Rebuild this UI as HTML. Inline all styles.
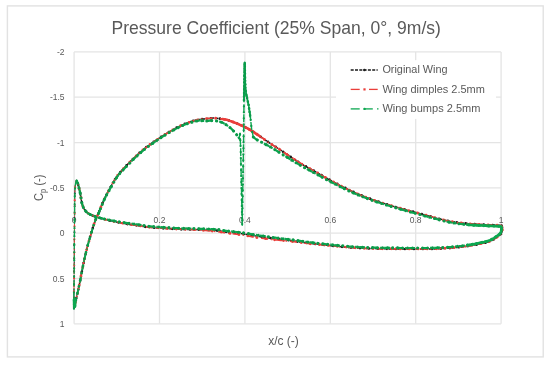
<!DOCTYPE html>
<html><head><meta charset="utf-8"><title>Pressure Coefficient</title>
<style>
html,body{margin:0;padding:0;background:#fff;}
body{width:550px;height:366px;overflow:hidden;font-family:"Liberation Sans",sans-serif;}
svg{display:block;}
text{font-family:"Liberation Sans",sans-serif;fill:#595959;}
.grid line{stroke:#e4e4e4;stroke-width:1.3;}
.tick text{font-size:8.5px;}
.crv{fill:none;stroke-linejoin:round;}
</style></head>
<body>
<svg width="550" height="366" viewBox="0 0 550 366">
<rect x="0" y="0" width="550" height="366" fill="#fff"/>
<rect x="7.4" y="5.9" width="535.8" height="351" fill="#fff" stroke="#e2e2e2" stroke-width="1.4"/>
<text x="276.2" y="33.5" text-anchor="middle" font-size="18.6" textLength="329.5" lengthAdjust="spacingAndGlyphs">Pressure Coefficient (25% Span, 0°, 9m/s)</text>
<g class="grid"><line x1="74.10" y1="51.90" x2="74.10" y2="323.80"/><line x1="159.50" y1="51.90" x2="159.50" y2="323.80"/><line x1="244.90" y1="51.90" x2="244.90" y2="323.80"/><line x1="330.30" y1="51.90" x2="330.30" y2="323.80"/><line x1="415.70" y1="51.90" x2="415.70" y2="323.80"/><line x1="501.10" y1="51.90" x2="501.10" y2="323.80"/><line x1="74.10" y1="51.90" x2="501.10" y2="51.90"/><line x1="74.10" y1="97.22" x2="501.10" y2="97.22"/><line x1="74.10" y1="142.53" x2="501.10" y2="142.53"/><line x1="74.10" y1="187.85" x2="501.10" y2="187.85"/><line x1="74.10" y1="233.17" x2="501.10" y2="233.17"/><line x1="74.10" y1="278.48" x2="501.10" y2="278.48"/><line x1="74.10" y1="323.80" x2="501.10" y2="323.80"/></g>
<g class="tick"><text x="64.6" y="54.9" text-anchor="end">-2</text><text x="64.6" y="100.2" text-anchor="end">-1.5</text><text x="64.6" y="145.5" text-anchor="end">-1</text><text x="64.6" y="190.9" text-anchor="end">-0.5</text><text x="64.6" y="236.2" text-anchor="end">0</text><text x="64.6" y="281.5" text-anchor="end">0.5</text><text x="64.6" y="326.8" text-anchor="end">1</text></g>
<g class="tick"><text x="74.1" y="223" text-anchor="middle">0</text><text x="159.5" y="223" text-anchor="middle">0.2</text><text x="244.9" y="223" text-anchor="middle">0.4</text><text x="330.3" y="223" text-anchor="middle">0.6</text><text x="415.7" y="223" text-anchor="middle">0.8</text><text x="501.1" y="223" text-anchor="middle">1</text></g>
<g class="crv">
<path d="M74.2 307.0 L74.4 306.2 L74.6 305.2 L74.9 304.0 L75.3 302.6 L75.6 301.1 L76.0 299.6 L76.3 298.0 L76.7 296.5 L77.0 295.0 L77.4 293.5 L77.7 292.0 L78.1 290.4 L78.5 288.7 L78.8 286.9 L79.3 284.9 L79.7 282.8 L80.2 280.4 L80.7 277.8 L81.2 275.0 L81.8 272.1 L82.4 269.1 L82.9 266.3 L83.5 263.5 L84.0 261.0 L84.5 258.7 L85.0 256.5 L85.5 254.4 L86.0 252.3 L86.5 250.4 L87.0 248.4 L87.5 246.5 L88.0 244.6 L88.5 242.7 L89.1 240.7 L89.6 238.8 L90.1 236.9 L90.7 235.1 L91.2 233.3 L91.7 231.6 L92.2 230.0 L92.7 228.5 L93.1 227.1 L93.5 225.8 L93.9 224.5 L94.3 223.3 L94.7 222.2 L95.1 221.1 L95.5 220.0 L95.8 219.1 L96.2 218.3 L96.5 217.6 L96.8 216.9 L97.1 216.2 L97.5 215.4 L97.9 214.5 L98.4 213.4 L99.0 212.0 L99.7 210.3 L100.4 208.6 L101.1 206.7 L101.8 204.8 L102.6 202.9 L103.4 201.1 L104.1 199.4 L104.9 197.9 L105.6 196.4 L106.4 194.9 L107.1 193.5 L107.9 192.1 L108.7 190.7 L109.4 189.3 L110.2 187.8 L111.0 186.4 L111.8 184.9 L112.7 183.4 L113.5 181.9 L114.3 180.5 L115.2 179.0 L116.0 177.7 L116.9 176.3 L117.8 175.1 L118.7 174.0 L119.6 172.9 L120.5 171.9 L121.4 170.9 L122.4 169.8 L123.4 168.7 L124.6 167.5 L125.8 166.2 L127.2 164.8 L128.6 163.3 L130.0 161.9 L131.5 160.4 L133.0 158.9 L134.5 157.5 L135.9 156.2 L137.3 154.9 L138.6 153.7 L139.9 152.5 L141.2 151.4 L142.5 150.2 L143.9 149.1 L145.2 148.0 L146.6 146.9 L148.1 145.8 L149.7 144.7 L151.2 143.6 L152.8 142.5 L154.4 141.4 L155.9 140.3 L157.4 139.3 L158.9 138.4 L160.2 137.5 L161.5 136.7 L162.7 135.9 L163.9 135.1 L165.1 134.4 L166.2 133.7 L167.4 132.9 L168.7 132.2 L170.0 131.4 L171.3 130.7 L172.7 129.9 L174.0 129.1 L175.4 128.4 L176.7 127.7 L178.1 127.0 L179.3 126.4 L180.6 125.8 L181.8 125.2 L183.0 124.7 L184.1 124.2 L185.3 123.8 L186.5 123.3 L187.6 122.9 L188.8 122.5 L189.9 121.8 L191.1 121.4 L192.3 121.0 L193.5 120.7 L194.7 120.4 L195.9 120.1 L197.2 119.9 L198.5 119.6 L199.9 119.4 L201.4 119.2 L203.0 119.0 L204.5 118.9 L206.0 118.7 L207.5 118.6 L208.8 118.5 L209.9 118.4 L210.8 118.3 L211.6 118.2 L212.2 118.2 L212.8 118.1 L213.3 118.1 L214.0 118.1 L214.8 118.1 L215.7 118.2 L216.8 118.3 L218.1 118.4 L219.5 118.6 L221.0 118.8 L222.4 119.0 L223.9 119.3 L225.3 119.5 L226.6 119.8 L227.9 120.1 L229.0 120.5 L230.1 120.9 L231.2 121.2 L232.3 121.7 L233.3 122.1 L234.3 122.5 L235.4 122.9 L236.4 123.3 L237.4 123.7 L238.4 124.1 L239.4 124.6 L240.4 125.0 L241.4 125.4 L242.3 125.9 L243.2 126.3 L244.1 126.7 L244.9 127.1 L245.6 127.4 L246.4 127.8 L247.1 128.2 L248.0 128.7 L248.8 129.2 L249.8 129.7 L250.9 130.4 L252.0 131.1 L253.3 131.9 L254.5 132.7 L255.8 133.6 L257.1 134.4 L258.5 135.3 L259.8 136.2 L261.1 137.1 L262.5 138.0 L263.9 139.0 L265.3 140.1 L266.7 141.0 L268.1 142.0 L269.4 142.9 L270.6 143.7 L271.5 144.3 L272.2 144.7 L272.8 145.1 L273.4 145.4 L274.1 145.8 L275.0 146.4 L276.2 147.1 L277.7 148.2 L279.8 149.6 L282.4 151.3 L285.2 153.2 L288.3 155.2 L291.4 157.3 L294.4 159.3 L297.2 161.2 L299.7 162.8 L301.9 164.1 L303.9 165.3 L305.8 166.3 L307.6 167.3 L309.3 168.3 L311.0 169.2 L312.7 170.1 L314.5 171.1 L316.3 172.2 L318.1 173.2 L320.0 174.3 L321.8 175.3 L323.6 176.4 L325.4 177.4 L327.2 178.4 L329.0 179.4 L330.8 180.4 L332.6 181.4 L334.4 182.4 L336.2 183.4 L338.0 184.3 L339.8 185.3 L341.6 186.2 L343.4 187.1 L345.3 188.0 L347.1 188.9 L348.9 189.8 L350.8 190.7 L352.6 191.5 L354.5 192.4 L356.3 193.2 L358.1 194.0 L359.9 194.7 L361.7 195.5 L363.4 196.2 L365.2 196.9 L367.0 197.6 L368.7 198.2 L370.5 198.9 L372.3 199.6 L374.2 200.2 L376.0 200.8 L377.9 201.5 L379.8 202.1 L381.6 202.7 L383.5 203.3 L385.4 203.9 L387.3 204.4 L389.2 205.0 L391.1 205.6 L392.9 206.2 L394.8 206.7 L396.7 207.3 L398.6 207.8 L400.4 208.3 L402.3 208.8 L404.1 209.3 L405.9 209.8 L407.7 210.3 L409.4 210.8 L411.2 211.2 L413.0 211.7 L414.7 212.2 L416.5 212.6 L418.2 213.1 L420.0 213.6 L421.8 214.1 L423.6 214.6 L425.4 215.0 L427.1 215.5 L428.7 215.9 L430.3 216.3 L431.7 216.7 L433.0 217.1 L434.2 217.4 L435.3 217.7 L436.5 218.1 L437.6 218.4 L438.9 218.7 L440.2 219.0 L441.7 219.4 L443.2 219.7 L444.7 220.1 L446.2 220.5 L447.8 220.8 L449.5 221.2 L451.2 221.5 L453.0 221.8 L454.8 222.1 L456.8 222.4 L458.8 222.7 L460.9 222.9 L463.0 223.2 L465.1 223.4 L467.2 223.6 L469.3 223.8 L471.4 224.0 L473.5 224.1 L475.6 224.2 L477.8 224.3 L479.9 224.4 L481.9 224.5 L483.8 224.6 L485.6 224.7 L487.4 224.8 L489.0 224.9 L490.6 224.9 L492.1 225.0 L493.5 225.0 L494.8 225.1 L496.0 225.2 L497.0 225.2 L497.9 225.2 L498.6 225.2 L499.2 225.2 L499.6 225.3 L500.1 225.3 L500.5 225.3 L500.9 225.4 L501.4 225.6 L501.8 225.9 L502.2 226.4 L502.4 226.8 L502.5 227.2 L502.5 227.6 L502.5 228.0 L502.5 228.3 L502.5 228.6 L502.5 229.0 L502.5 229.4 L502.4 229.8 L502.4 230.2 L502.3 230.7 L502.2 231.1 L502.1 231.5 L501.9 231.9 L501.8 232.2 L501.8 232.5 L501.7 232.8 L501.5 233.2 L501.3 233.6 L501.0 234.0 L500.6 234.5 L500.1 235.0 L499.4 235.5 L498.6 236.1 L497.6 236.8 L496.6 237.5 L495.6 238.2 L494.5 238.9 L493.5 239.5 L492.6 240.1 L491.8 240.5 L491.1 240.9 L490.4 241.2 L489.8 241.4 L489.0 241.7 L488.2 242.0 L487.1 242.2 L485.8 242.6 L484.3 243.0 L482.4 243.4 L480.4 243.8 L478.2 244.3 L476.0 244.7 L473.7 245.1 L471.5 245.5 L469.4 245.9 L467.3 246.2 L465.2 246.5 L463.2 246.7 L461.1 247.0 L459.1 247.2 L457.0 247.4 L454.9 247.6 L452.9 247.8 L450.8 248.0 L448.8 248.1 L446.7 248.3 L444.7 248.4 L442.6 248.5 L440.5 248.6 L438.5 248.7 L436.4 248.8 L434.4 248.9 L432.2 248.9 L430.1 248.9 L428.0 249.0 L425.9 249.0 L423.9 249.0 L421.9 249.0 L420.0 249.0 L418.3 249.0 L416.9 249.0 L415.6 249.0 L414.3 249.0 L412.9 249.0 L411.3 249.0 L409.4 249.0 L407.0 249.0 L404.1 249.0 L400.7 249.0 L396.9 248.9 L393.0 248.9 L389.0 248.9 L385.0 248.8 L381.2 248.8 L377.7 248.7 L374.5 248.6 L371.4 248.5 L368.5 248.5 L365.6 248.4 L362.8 248.3 L360.0 248.1 L357.1 248.0 L354.2 247.8 L351.3 247.6 L348.3 247.4 L345.3 247.1 L342.4 246.8 L339.4 246.6 L336.5 246.3 L333.7 246.0 L330.9 245.7 L328.2 245.4 L325.6 245.1 L323.0 244.9 L320.5 244.6 L317.9 244.3 L315.4 244.0 L312.9 243.7 L310.4 243.4 L307.7 243.0 L305.1 242.7 L302.3 242.3 L299.6 241.9 L297.0 241.5 L294.4 241.1 L292.0 240.8 L289.9 240.5 L288.0 240.2 L286.4 240.1 L284.9 239.9 L283.6 239.7 L282.2 239.6 L280.8 239.4 L279.2 239.2 L277.3 239.0 L275.0 238.7 L272.6 238.4 L269.9 238.0 L267.2 237.6 L264.4 237.2 L261.7 236.8 L259.2 236.4 L256.8 236.1 L254.7 235.8 L252.8 235.4 L250.9 235.1 L249.1 234.8 L247.4 234.5 L245.7 234.2 L243.9 234.0 L242.2 233.7 L240.3 233.4 L238.5 233.2 L236.6 233.0 L234.7 232.8 L232.9 232.6 L231.0 232.4 L229.3 232.2 L227.6 232.0 L226.0 231.8 L224.6 231.6 L223.2 231.3 L221.9 231.1 L220.5 230.9 L219.1 230.7 L217.6 230.6 L215.9 230.4 L214.0 230.3 L212.1 230.2 L210.0 230.1 L207.8 230.0 L205.5 229.9 L203.2 229.8 L200.8 229.8 L198.5 229.7 L196.0 229.6 L193.5 229.6 L190.9 229.5 L188.3 229.5 L185.7 229.4 L183.1 229.4 L180.5 229.3 L178.0 229.2 L175.4 229.1 L172.9 228.9 L170.3 228.8 L167.8 228.6 L165.4 228.4 L163.0 228.3 L160.9 228.1 L158.9 228.0 L157.2 227.9 L155.7 227.8 L154.3 227.7 L153.0 227.6 L151.8 227.5 L150.7 227.4 L149.6 227.3 L148.4 227.2 L147.3 227.1 L146.2 226.9 L145.3 226.8 L144.3 226.6 L143.4 226.5 L142.3 226.3 L141.2 226.1 L139.9 225.9 L138.4 225.7 L136.7 225.4 L135.0 225.2 L133.2 224.9 L131.3 224.7 L129.3 224.4 L127.4 224.1 L125.4 223.8 L123.5 223.4 L121.4 223.0 L119.2 222.6 L117.1 222.2 L115.0 221.7 L112.9 221.3 L110.9 220.9 L109.1 220.5 L107.4 220.1 L105.8 219.6 L104.3 219.2 L102.8 218.8 L101.4 218.4 L100.1 218.1 L98.9 217.7 L97.7 217.3 L96.6 216.9 L95.5 216.6 L94.6 216.3 L93.7 215.9 L92.8 215.6 L92.0 215.3 L91.3 215.0 L90.5 214.6 L89.8 214.2 L89.1 213.8 L88.4 213.5 L87.8 213.1 L87.2 212.6 L86.7 212.1 L86.1 211.6 L85.6 211.0 L85.1 210.4 L84.6 209.7 L84.2 209.0 L83.8 208.3 L83.4 207.5 L83.0 206.6 L82.7 205.6 L82.3 204.4 L81.9 203.0 L81.6 201.5 L81.3 199.7 L81.0 197.9 L80.7 196.1 L80.4 194.4 L80.1 192.7 L79.8 191.3 L79.5 190.0 L79.2 188.9 L79.0 187.8 L78.7 186.8 L78.5 185.8 L78.2 185.0 L78.0 184.2 L77.8 183.5 L77.6 182.9 L77.4 182.3 L77.3 181.8 L77.1 181.4 L77.0 181.1 L76.9 180.9 L76.7 180.7 L76.6 180.7" stroke="#1a1a1a" stroke-width="1.5" stroke-dasharray="3 1.5"/><path d="M74.2 307.0 L74.4 306.2 L74.6 305.2 L74.9 304.0 L75.3 302.6 L75.6 301.1 L76.0 299.6 L76.3 298.0 L76.7 296.5 L77.0 295.0 L77.4 293.5 L77.7 292.0 L78.1 290.4 L78.5 288.7 L78.8 286.9 L79.3 284.9 L79.7 282.8 L80.2 280.4 L80.7 277.8 L81.2 275.0 L81.8 272.1 L82.4 269.1 L82.9 266.3 L83.5 263.5 L84.0 261.0 L84.5 258.7 L85.0 256.5 L85.5 254.4 L86.0 252.3 L86.5 250.4 L87.0 248.4 L87.5 246.5 L88.0 244.6 L88.5 242.7 L89.1 240.7 L89.6 238.8 L90.1 236.9 L90.7 235.1 L91.2 233.3 L91.7 231.6 L92.2 230.0 L92.7 228.5 L93.1 227.1 L93.5 225.8 L93.9 224.5 L94.3 223.3 L94.7 222.2 L95.1 221.1 L95.5 220.0 L95.8 219.1 L96.2 218.3 L96.5 217.6 L96.8 216.9 L97.1 216.2 L97.5 215.4 L97.9 214.5 L98.4 213.4 L99.0 212.0 L99.7 210.3 L100.4 208.6 L101.1 206.7 L101.8 204.8 L102.6 202.9 L103.4 201.1 L104.1 199.4 L104.9 197.9 L105.6 196.4 L106.4 194.9 L107.1 193.5 L107.9 192.1 L108.7 190.7 L109.4 189.3 L110.2 187.8 L111.0 186.4 L111.8 184.9 L112.7 183.4 L113.5 181.9 L114.3 180.5 L115.2 179.0 L116.0 177.7 L116.9 176.3 L117.8 175.1 L118.7 174.0 L119.6 172.9 L120.5 171.9 L121.4 170.9 L122.4 169.8 L123.4 168.7 L124.6 167.5 L125.8 166.2 L127.2 164.8 L128.6 163.3 L130.0 161.9 L131.5 160.4 L133.0 158.9 L134.5 157.5 L135.9 156.2 L137.3 154.9 L138.6 153.7 L139.9 152.5 L141.2 151.4 L142.5 150.2 L143.9 149.1 L145.2 148.0 L146.6 146.9 L148.1 145.8 L149.7 144.7 L151.2 143.6 L152.8 142.5 L154.4 141.4 L155.9 140.3 L157.4 139.3 L158.9 138.4 L160.2 137.5 L161.5 136.7 L162.7 135.9 L163.9 135.1 L165.1 134.4 L166.2 133.7 L167.4 132.9 L168.7 132.2 L170.0 131.4 L171.3 130.7 L172.7 129.9 L174.0 129.1 L175.4 128.4 L176.7 127.7 L178.1 127.0 L179.3 126.4 L180.6 125.8 L181.8 125.2 L183.0 124.7 L184.1 124.2 L185.3 123.8 L186.5 123.3 L187.6 122.9 L188.8 122.5 L189.9 121.8 L191.1 121.4 L192.3 121.0 L193.5 120.7 L194.7 120.4 L195.9 120.1 L197.2 119.9 L198.5 119.6 L199.9 119.4 L201.4 119.2 L203.0 119.0 L204.5 118.9 L206.0 118.7 L207.5 118.6 L208.8 118.5 L209.9 118.4 L210.8 118.3 L211.6 118.2 L212.2 118.2 L212.8 118.1 L213.3 118.1 L214.0 118.1 L214.8 118.1 L215.7 118.2 L216.8 118.3 L218.1 118.4 L219.5 118.6 L221.0 118.8 L222.4 119.0 L223.9 119.3 L225.3 119.5 L226.6 119.8 L227.9 120.1 L229.0 120.5 L230.1 120.9 L231.2 121.2 L232.3 121.7 L233.3 122.1 L234.3 122.5 L235.4 122.9 L236.4 123.3 L237.4 123.7 L238.4 124.1 L239.4 124.6 L240.4 125.0 L241.4 125.4 L242.3 125.9 L243.2 126.3 L244.1 126.7 L244.9 127.1 L245.6 127.4 L246.4 127.8 L247.1 128.2 L248.0 128.7 L248.8 129.2 L249.8 129.7 L250.9 130.4 L252.0 131.1 L253.3 131.9 L254.5 132.7 L255.8 133.6 L257.1 134.4 L258.5 135.3 L259.8 136.2 L261.1 137.1 L262.5 138.0 L263.9 139.0 L265.3 140.1 L266.7 141.0 L268.1 142.0 L269.4 142.9 L270.6 143.7 L271.5 144.3 L272.2 144.7 L272.8 145.1 L273.4 145.4 L274.1 145.8 L275.0 146.4 L276.2 147.1 L277.7 148.2 L279.8 149.6 L282.4 151.3 L285.2 153.2 L288.3 155.2 L291.4 157.3 L294.4 159.3 L297.2 161.2 L299.7 162.8 L301.9 164.1 L303.9 165.3 L305.8 166.3 L307.6 167.3 L309.3 168.3 L311.0 169.2 L312.7 170.1 L314.5 171.1 L316.3 172.2 L318.1 173.2 L320.0 174.3 L321.8 175.3 L323.6 176.4 L325.4 177.4 L327.2 178.4 L329.0 179.4 L330.8 180.4 L332.6 181.4 L334.4 182.4 L336.2 183.4 L338.0 184.3 L339.8 185.3 L341.6 186.2 L343.4 187.1 L345.3 188.0 L347.1 188.9 L348.9 189.8 L350.8 190.7 L352.6 191.5 L354.5 192.4 L356.3 193.2 L358.1 194.0 L359.9 194.7 L361.7 195.5 L363.4 196.2 L365.2 196.9 L367.0 197.6 L368.7 198.2 L370.5 198.9 L372.3 199.6 L374.2 200.2 L376.0 200.8 L377.9 201.5 L379.8 202.1 L381.6 202.7 L383.5 203.3 L385.4 203.9 L387.3 204.4 L389.2 205.0 L391.1 205.6 L392.9 206.2 L394.8 206.7 L396.7 207.3 L398.6 207.8 L400.4 208.3 L402.3 208.8 L404.1 209.3 L405.9 209.8 L407.7 210.3 L409.4 210.8 L411.2 211.2 L413.0 211.7 L414.7 212.2 L416.5 212.6 L418.2 213.1 L420.0 213.6 L421.8 214.1 L423.6 214.6 L425.4 215.0 L427.1 215.5 L428.7 215.9 L430.3 216.3 L431.7 216.7 L433.0 217.1 L434.2 217.4 L435.3 217.7 L436.5 218.1 L437.6 218.4 L438.9 218.7 L440.2 219.0 L441.7 219.4 L443.2 219.7 L444.7 220.1 L446.2 220.5 L447.8 220.8 L449.5 221.2 L451.2 221.5 L453.0 221.8 L454.8 222.1 L456.8 222.4 L458.8 222.7 L460.9 222.9 L463.0 223.2 L465.1 223.4 L467.2 223.6 L469.3 223.8 L471.4 224.0 L473.5 224.1 L475.6 224.2 L477.8 224.3 L479.9 224.4 L481.9 224.5 L483.8 224.6 L485.6 224.7 L487.4 224.8 L489.0 224.9 L490.6 224.9 L492.1 225.0 L493.5 225.0 L494.8 225.1 L496.0 225.2 L497.0 225.2 L497.9 225.2 L498.6 225.2 L499.2 225.2 L499.6 225.3 L500.1 225.3 L500.5 225.3 L500.9 225.4 L501.4 225.6 L501.8 225.9 L502.2 226.4 L502.4 226.8 L502.5 227.2 L502.5 227.6 L502.5 228.0 L502.5 228.3 L502.5 228.6 L502.5 229.0 L502.5 229.4 L502.4 229.8 L502.4 230.2 L502.3 230.7 L502.2 231.1 L502.1 231.5 L501.9 231.9 L501.8 232.2 L501.8 232.5 L501.7 232.8 L501.5 233.2 L501.3 233.6 L501.0 234.0 L500.6 234.5 L500.1 235.0 L499.4 235.5 L498.6 236.1 L497.6 236.8 L496.6 237.5 L495.6 238.2 L494.5 238.9 L493.5 239.5 L492.6 240.1 L491.8 240.5 L491.1 240.9 L490.4 241.2 L489.8 241.4 L489.0 241.7 L488.2 242.0 L487.1 242.2 L485.8 242.6 L484.3 243.0 L482.4 243.4 L480.4 243.8 L478.2 244.3 L476.0 244.7 L473.7 245.1 L471.5 245.5 L469.4 245.9 L467.3 246.2 L465.2 246.5 L463.2 246.7 L461.1 247.0 L459.1 247.2 L457.0 247.4 L454.9 247.6 L452.9 247.8 L450.8 248.0 L448.8 248.1 L446.7 248.3 L444.7 248.4 L442.6 248.5 L440.5 248.6 L438.5 248.7 L436.4 248.8 L434.4 248.9 L432.2 248.9 L430.1 248.9 L428.0 249.0 L425.9 249.0 L423.9 249.0 L421.9 249.0 L420.0 249.0 L418.3 249.0 L416.9 249.0 L415.6 249.0 L414.3 249.0 L412.9 249.0 L411.3 249.0 L409.4 249.0 L407.0 249.0 L404.1 249.0 L400.7 249.0 L396.9 248.9 L393.0 248.9 L389.0 248.9 L385.0 248.8 L381.2 248.8 L377.7 248.7 L374.5 248.6 L371.4 248.5 L368.5 248.5 L365.6 248.4 L362.8 248.3 L360.0 248.1 L357.1 248.0 L354.2 247.8 L351.3 247.6 L348.3 247.4 L345.3 247.1 L342.4 246.8 L339.4 246.6 L336.5 246.3 L333.7 246.0 L330.9 245.7 L328.2 245.4 L325.6 245.1 L323.0 244.9 L320.5 244.6 L317.9 244.3 L315.4 244.0 L312.9 243.7 L310.4 243.4 L307.7 243.0 L305.1 242.7 L302.3 242.3 L299.6 241.9 L297.0 241.5 L294.4 241.1 L292.0 240.8 L289.9 240.5 L288.0 240.2 L286.4 240.1 L284.9 239.9 L283.6 239.7 L282.2 239.6 L280.8 239.4 L279.2 239.2 L277.3 239.0 L275.0 238.7 L272.6 238.4 L269.9 238.0 L267.2 237.6 L264.4 237.2 L261.7 236.8 L259.2 236.4 L256.8 236.1 L254.7 235.8 L252.8 235.4 L250.9 235.1 L249.1 234.8 L247.4 234.5 L245.7 234.2 L243.9 234.0 L242.2 233.7 L240.3 233.4 L238.5 233.2 L236.6 233.0 L234.7 232.8 L232.9 232.6 L231.0 232.4 L229.3 232.2 L227.6 232.0 L226.0 231.8 L224.6 231.6 L223.2 231.3 L221.9 231.1 L220.5 230.9 L219.1 230.7 L217.6 230.6 L215.9 230.4 L214.0 230.3 L212.1 230.2 L210.0 230.1 L207.8 230.0 L205.5 229.9 L203.2 229.8 L200.8 229.8 L198.5 229.7 L196.0 229.6 L193.5 229.6 L190.9 229.5 L188.3 229.5 L185.7 229.4 L183.1 229.4 L180.5 229.3 L178.0 229.2 L175.4 229.1 L172.9 228.9 L170.3 228.8 L167.8 228.6 L165.4 228.4 L163.0 228.3 L160.9 228.1 L158.9 228.0 L157.2 227.9 L155.7 227.8 L154.3 227.7 L153.0 227.6 L151.8 227.5 L150.7 227.4 L149.6 227.3 L148.4 227.2 L147.3 227.1 L146.2 226.9 L145.3 226.8 L144.3 226.6 L143.4 226.5 L142.3 226.3 L141.2 226.1 L139.9 225.9 L138.4 225.7 L136.7 225.4 L135.0 225.2 L133.2 224.9 L131.3 224.7 L129.3 224.4 L127.4 224.1 L125.4 223.8 L123.5 223.4 L121.4 223.0 L119.2 222.6 L117.1 222.2 L115.0 221.7 L112.9 221.3 L110.9 220.9 L109.1 220.5 L107.4 220.1 L105.8 219.6 L104.3 219.2 L102.8 218.8 L101.4 218.4 L100.1 218.1 L98.9 217.7 L97.7 217.3 L96.6 216.9 L95.5 216.6 L94.6 216.3 L93.7 215.9 L92.8 215.6 L92.0 215.3 L91.3 215.0 L90.5 214.6 L89.8 214.2 L89.1 213.8 L88.4 213.5 L87.8 213.1 L87.2 212.6 L86.7 212.1 L86.1 211.6 L85.6 211.0 L85.1 210.4 L84.6 209.7 L84.2 209.0 L83.8 208.3 L83.4 207.5 L83.0 206.6 L82.7 205.6 L82.3 204.4 L81.9 203.0 L81.6 201.5 L81.3 199.7 L81.0 197.9 L80.7 196.1 L80.4 194.4 L80.1 192.7 L79.8 191.3 L79.5 190.0 L79.2 188.9 L79.0 187.8 L78.7 186.8 L78.5 185.8 L78.2 185.0 L78.0 184.2 L77.8 183.5 L77.6 182.9 L77.4 182.3 L77.3 181.8 L77.1 181.4 L77.0 181.1 L76.9 180.9 L76.7 180.7 L76.6 180.7" stroke="#1a1a1a" stroke-width="2.7" stroke-linecap="round" stroke-dasharray="0 9" stroke-dashoffset="0"/><path d="M76.6 180.7 L76.5 180.8 L76.3 180.9 L76.2 181.2 L76.0 181.5 L75.9 182.0 L75.7 182.5 L75.6 183.2 L75.5 184.0 L75.4 184.8 L75.3 185.6 L75.2 186.4 L75.1 187.4 L75.0 188.6 L74.9 190.1 L74.9 192.1 L74.8 194.6 L74.7 197.5 L74.7 200.6 L74.7 204.1 L74.6 207.9 L74.6 212.2 L74.6 217.1 L74.5 222.7 L74.5 229.0 L74.4 236.7 L74.3 246.1 L74.3 256.5 L74.2 267.3 L74.1 277.9 L74.0 287.6 L73.9 295.9 L73.9 302.0 L73.9 305.9 L73.9 308.1 L74.0 309.1 L74.0 309.1 L74.1 308.5 L74.1 307.7 L74.2 307.1 L74.2 307.0" stroke="#1a1a1a" stroke-width="1.0" stroke-dasharray="3 1.5"/><path d="M76.6 180.7 L76.5 180.8 L76.3 180.9 L76.2 181.2 L76.0 181.5 L75.9 182.0 L75.7 182.5 L75.6 183.2 L75.5 184.0 L75.4 184.8 L75.3 185.6 L75.2 186.4 L75.1 187.4 L75.0 188.6 L74.9 190.1 L74.9 192.1 L74.8 194.6 L74.7 197.5 L74.7 200.6 L74.7 204.1 L74.6 207.9 L74.6 212.2 L74.6 217.1 L74.5 222.7 L74.5 229.0 L74.4 236.7 L74.3 246.1 L74.3 256.5 L74.2 267.3 L74.1 277.9 L74.0 287.6 L73.9 295.9 L73.9 302.0 L73.9 305.9 L73.9 308.1 L74.0 309.1 L74.0 309.1 L74.1 308.5 L74.1 307.7 L74.2 307.1 L74.2 307.0" stroke="#1a1a1a" stroke-width="2.0" stroke-linecap="round" stroke-dasharray="0 13" stroke-dashoffset="0"/><path d="M74.2 307.0 L74.4 306.2 L74.6 305.2 L74.9 304.0 L75.3 302.6 L75.6 301.1 L76.0 299.6 L76.3 298.0 L76.7 296.5 L77.0 295.0 L77.4 293.5 L77.7 292.0 L78.1 290.4 L78.5 288.7 L78.8 286.9 L79.3 284.9 L79.7 282.8 L80.2 280.4 L80.7 277.8 L81.2 275.0 L81.8 272.1 L82.4 269.1 L82.9 266.3 L83.5 263.5 L84.0 261.0 L84.5 258.7 L85.0 256.5 L85.5 254.4 L86.0 252.3 L86.5 250.4 L87.0 248.4 L87.5 246.5 L88.0 244.6 L88.5 242.7 L89.1 240.7 L89.6 238.8 L90.1 236.9 L90.7 235.1 L91.2 233.3 L91.7 231.6 L92.2 230.0 L92.7 228.5 L93.1 227.1 L93.5 225.8 L93.9 224.5 L94.3 223.3 L94.7 222.2 L95.1 221.1 L95.5 220.0 L95.8 219.1 L96.2 218.3 L96.5 217.6 L96.8 216.9 L97.1 216.2 L97.5 215.5 L97.9 214.5 L98.4 213.4 L99.0 212.0 L99.7 210.3 L100.4 208.6 L101.1 206.7 L101.9 204.8 L102.6 202.9 L103.4 201.1 L104.1 199.4 L104.9 197.9 L105.6 196.4 L106.4 194.9 L107.1 193.5 L107.9 192.1 L108.7 190.7 L109.5 189.3 L110.3 187.9 L111.1 186.4 L111.9 184.9 L112.7 183.4 L113.5 182.0 L114.3 180.5 L115.2 179.1 L116.1 177.7 L117.0 176.4 L117.9 175.1 L118.7 174.0 L119.6 173.0 L120.5 171.9 L121.5 170.9 L122.4 169.8 L123.5 168.7 L124.6 167.5 L125.8 166.2 L127.2 164.8 L128.6 163.4 L130.1 161.9 L131.6 160.4 L133.0 158.9 L134.5 157.5 L135.9 156.2 L137.3 154.9 L138.6 153.7 L139.9 152.6 L141.2 151.4 L142.5 150.3 L143.9 149.2 L145.3 148.1 L146.7 147.0 L148.1 145.8 L149.7 144.7 L151.3 143.6 L152.8 142.5 L154.4 141.4 L156.0 140.4 L157.5 139.4 L158.9 138.4 L160.2 137.6 L161.5 136.7 L162.7 135.9 L163.9 135.2 L165.1 134.4 L166.3 133.7 L167.5 133.0 L168.7 132.2 L170.0 131.5 L171.3 130.7 L172.7 129.9 L174.1 129.2 L175.4 128.4 L176.8 127.7 L178.1 127.0 L179.4 126.4 L180.6 125.8 L181.8 125.3 L183.0 124.8 L184.2 124.3 L185.3 123.8 L186.5 123.3 L187.6 122.9 L188.8 122.5 L190.0 122.0 L191.2 121.6 L192.3 121.3 L193.5 120.9 L194.7 120.6 L196.0 120.2 L197.2 119.9 L198.5 119.7 L199.9 119.4 L201.4 119.2 L203.0 119.0 L204.5 118.9 L206.0 118.7 L207.5 118.6 L208.8 118.5 L209.9 118.4 L210.8 118.3 L211.6 118.2 L212.2 118.2 L212.8 118.1 L213.3 118.1 L214.0 118.1 L214.8 118.1 L215.7 118.2 L216.8 118.3 L218.1 118.4 L219.5 118.6 L221.0 118.8 L222.4 119.0 L223.9 119.3 L225.3 119.5 L226.6 119.8 L227.9 120.1 L229.0 120.5 L230.1 120.9 L231.2 121.2 L232.3 121.7 L233.3 122.1 L234.3 122.5 L235.4 122.9 L236.4 123.3 L237.4 123.7 L238.4 124.1 L239.4 124.6 L240.4 125.0 L241.4 125.4 L242.3 125.9 L243.2 126.3 L244.1 126.7 L244.9 127.1 L245.6 127.4 L246.4 127.8 L247.1 128.2 L248.0 128.7 L248.8 129.2 L249.8 129.7 L250.9 130.4 L252.0 131.1 L253.3 131.9 L254.5 132.7 L255.8 133.6 L257.1 134.4 L258.5 135.3 L259.8 136.2 L261.1 137.1 L262.5 138.0 L263.9 139.1 L265.3 140.1 L266.7 141.1 L268.0 142.1 L269.3 143.0 L270.5 143.8 L271.5 144.4 L272.2 144.8 L272.8 145.2 L273.4 145.5 L274.0 145.9 L274.9 146.5 L276.1 147.2 L277.7 148.2 L279.8 149.6 L282.3 151.3 L285.2 153.3 L288.2 155.3 L291.3 157.4 L294.4 159.4 L297.2 161.2 L299.7 162.8 L301.9 164.2 L303.9 165.4 L305.7 166.4 L307.5 167.4 L309.2 168.3 L310.9 169.3 L312.7 170.2 L314.4 171.2 L316.3 172.3 L318.1 173.3 L319.9 174.4 L321.7 175.4 L323.5 176.5 L325.3 177.5 L327.1 178.5 L328.9 179.5 L330.7 180.5 L332.6 181.5 L334.4 182.5 L336.2 183.4 L338.0 184.4 L339.8 185.3 L341.6 186.3 L343.4 187.2 L345.2 188.1 L347.1 189.0 L348.9 189.9 L350.7 190.8 L352.6 191.6 L354.4 192.5 L356.2 193.3 L358.1 194.1 L359.9 194.8 L361.6 195.6 L363.4 196.3 L365.2 197.0 L366.9 197.7 L368.7 198.3 L370.5 199.0 L372.3 199.7 L374.1 200.3 L376.0 200.9 L377.9 201.6 L379.7 202.2 L381.6 202.8 L383.5 203.4 L385.4 204.0 L387.3 204.5 L389.1 205.1 L391.0 205.7 L392.9 206.3 L394.8 206.8 L396.7 207.4 L398.6 207.9 L400.4 208.4 L402.2 208.9 L404.1 209.4 L405.9 209.9 L407.6 210.4 L409.4 210.9 L411.2 211.3 L412.9 211.8 L414.7 212.3 L416.4 212.7 L418.2 213.2 L420.0 213.7 L421.8 214.2 L423.6 214.6 L425.4 215.1 L427.1 215.6 L428.7 216.0 L430.2 216.4 L431.7 216.8 L432.9 217.2 L434.1 217.5 L435.3 217.8 L436.4 218.2 L437.6 218.5 L438.9 218.8 L440.2 219.1 L441.7 219.5 L443.1 219.8 L444.6 220.2 L446.2 220.6 L447.8 220.9 L449.5 221.3 L451.2 221.6 L452.9 221.9 L454.8 222.2 L456.8 222.5 L458.8 222.8 L460.9 223.0 L463.0 223.3 L465.1 223.5 L467.2 223.7 L469.3 223.9 L471.4 224.1 L473.5 224.2 L475.6 224.3 L477.8 224.4 L479.9 224.5 L481.9 224.6 L483.8 224.7 L485.6 224.8 L487.4 224.9 L489.0 225.0 L490.6 225.0 L492.1 225.1 L493.5 225.1 L494.8 225.2 L496.0 225.3 L497.0 225.3 L497.9 225.3 L498.6 225.3 L499.2 225.3 L499.6 225.4 L500.1 225.4 L500.5 225.4 L500.9 225.5 L501.3 225.7 L501.8 226.0 L502.1 226.4 L502.3 226.8 L502.4 227.2 L502.4 227.6 L502.4 228.0 L502.4 228.3 L502.4 228.6 L502.4 229.0 L502.4 229.4 L502.3 229.8 L502.3 230.2 L502.2 230.6 L502.1 231.1 L502.0 231.5 L501.9 231.9 L501.8 232.2 L501.7 232.5 L501.6 232.8 L501.4 233.2 L501.2 233.6 L500.9 234.0 L500.5 234.4 L500.0 234.9 L499.3 235.4 L498.5 236.1 L497.6 236.7 L496.6 237.5 L495.5 238.2 L494.5 238.8 L493.5 239.5 L492.5 240.0 L491.7 240.4 L491.1 240.8 L490.4 241.1 L489.7 241.3 L489.0 241.6 L488.1 241.9 L487.1 242.1 L485.8 242.5 L484.2 242.9 L482.4 243.3 L480.4 243.7 L478.2 244.2 L476.0 244.6 L473.7 245.0 L471.5 245.4 L469.3 245.8 L467.3 246.1 L465.2 246.4 L463.2 246.6 L461.1 246.9 L459.0 247.1 L457.0 247.3 L454.9 247.5 L452.9 247.7 L450.8 247.9 L448.8 248.0 L446.7 248.2 L444.7 248.3 L442.6 248.4 L440.5 248.5 L438.5 248.6 L436.4 248.7 L434.4 248.8 L432.2 248.8 L430.1 248.8 L428.0 248.9 L425.9 248.9 L423.9 248.9 L421.9 248.9 L420.0 248.9 L418.3 248.9 L416.9 248.9 L415.6 248.9 L414.3 248.9 L412.9 248.9 L411.3 248.9 L409.4 248.9 L407.0 248.9 L404.1 248.9 L400.7 248.9 L396.9 248.8 L393.0 248.8 L389.0 248.8 L385.0 248.7 L381.2 248.7 L377.7 248.6 L374.5 248.5 L371.4 248.4 L368.5 248.4 L365.6 248.3 L362.8 248.2 L360.0 248.0 L357.1 247.9 L354.2 247.7 L351.3 247.5 L348.3 247.3 L345.4 247.0 L342.4 246.7 L339.4 246.5 L336.5 246.2 L333.7 245.9 L330.9 245.6 L328.2 245.4 L325.6 245.1 L323.0 244.9 L320.5 244.7 L317.9 244.4 L315.4 244.2 L312.9 243.9 L310.3 243.7 L307.7 243.4 L305.0 243.1 L302.3 242.7 L299.5 242.4 L296.9 242.1 L294.3 241.7 L292.0 241.5 L289.8 241.2 L287.9 241.0 L286.3 240.9 L284.8 240.7 L283.5 240.6 L282.1 240.5 L280.7 240.4 L279.0 240.2 L277.1 240.0 L274.9 239.7 L272.4 239.5 L269.8 239.1 L267.0 238.8 L264.2 238.5 L261.5 238.2 L259.0 237.8 L256.6 237.4 L254.5 237.1 L252.5 236.8 L250.7 236.4 L248.9 236.1 L247.2 235.8 L245.5 235.5 L243.8 235.2 L242.0 234.9 L240.2 234.7 L238.3 234.4 L236.4 234.2 L234.6 234.0 L232.7 233.7 L230.9 233.5 L229.1 233.3 L227.4 233.1 L225.8 232.9 L224.4 232.6 L223.0 232.4 L221.7 232.2 L220.4 232.0 L219.0 231.8 L217.5 231.6 L215.8 231.4 L214.0 231.2 L212.0 231.0 L209.9 230.8 L207.7 230.7 L205.5 230.5 L203.2 230.3 L200.8 230.1 L198.5 230.0 L196.0 229.8 L193.5 229.6 L190.9 229.5 L188.3 229.4 L185.7 229.3 L183.1 229.3 L180.5 229.2 L178.0 229.1 L175.4 229.0 L172.9 228.8 L170.3 228.7 L167.8 228.5 L165.4 228.3 L163.1 228.2 L160.9 228.0 L158.9 227.9 L157.2 227.8 L155.7 227.7 L154.3 227.6 L153.0 227.5 L151.8 227.4 L150.7 227.3 L149.6 227.2 L148.4 227.1 L147.3 227.0 L146.2 226.8 L145.3 226.7 L144.3 226.5 L143.4 226.4 L142.3 226.2 L141.2 226.0 L139.9 225.8 L138.4 225.6 L136.7 225.3 L135.0 225.1 L133.2 224.8 L131.3 224.6 L129.3 224.3 L127.4 224.0 L125.5 223.7 L123.5 223.3 L121.4 222.9 L119.3 222.5 L117.1 222.1 L115.0 221.7 L112.9 221.2 L110.9 220.8 L109.1 220.4 L107.4 220.0 L105.8 219.6 L104.3 219.2 L102.8 218.8 L101.4 218.4 L100.1 218.0 L98.9 217.7 L97.7 217.3 L96.6 216.9 L95.5 216.6 L94.6 216.3 L93.7 215.9 L92.8 215.6 L92.0 215.3 L91.3 215.0 L90.5 214.6 L89.8 214.2 L89.1 213.8 L88.4 213.5 L87.8 213.1 L87.2 212.6 L86.7 212.1 L86.1 211.6 L85.6 211.0 L85.1 210.4 L84.6 209.7 L84.2 209.0 L83.8 208.3 L83.4 207.5 L83.0 206.6 L82.7 205.6 L82.3 204.4 L81.9 203.0 L81.6 201.5 L81.3 199.7 L81.0 197.9 L80.7 196.1 L80.4 194.4 L80.1 192.7 L79.8 191.3 L79.5 190.0 L79.2 188.9 L79.0 187.8 L78.7 186.8 L78.5 185.8 L78.2 185.0 L78.0 184.2 L77.8 183.5 L77.6 182.9 L77.4 182.3 L77.3 181.8 L77.1 181.4 L77.0 181.1 L76.9 180.9 L76.7 180.7 L76.6 180.7" stroke="#ea3e3a" stroke-width="1.7" stroke-dasharray="7 3 1.5 3"/><path d="M74.2 307.0 L74.4 306.2 L74.6 305.2 L74.9 304.0 L75.3 302.6 L75.6 301.1 L76.0 299.6 L76.3 298.0 L76.7 296.5 L77.0 295.0 L77.4 293.5 L77.7 292.0 L78.1 290.4 L78.5 288.7 L78.8 286.9 L79.3 284.9 L79.7 282.8 L80.2 280.4 L80.7 277.8 L81.2 275.0 L81.8 272.1 L82.4 269.1 L82.9 266.3 L83.5 263.5 L84.0 261.0 L84.5 258.7 L85.0 256.5 L85.5 254.4 L86.0 252.3 L86.5 250.4 L87.0 248.4 L87.5 246.5 L88.0 244.6 L88.5 242.7 L89.1 240.7 L89.6 238.8 L90.1 236.9 L90.7 235.1 L91.2 233.3 L91.7 231.6 L92.2 230.0 L92.7 228.5 L93.1 227.1 L93.5 225.8 L93.9 224.5 L94.3 223.3 L94.7 222.2 L95.1 221.1 L95.5 220.0 L95.8 219.1 L96.2 218.3 L96.5 217.6 L96.8 216.9 L97.1 216.2 L97.5 215.5 L97.9 214.5 L98.4 213.4 L99.0 212.0 L99.7 210.3 L100.4 208.6 L101.1 206.7 L101.9 204.8 L102.6 202.9 L103.4 201.1 L104.1 199.4 L104.9 197.9 L105.6 196.4 L106.4 194.9 L107.1 193.5 L107.9 192.1 L108.7 190.7 L109.5 189.3 L110.3 187.9 L111.1 186.4 L111.9 184.9 L112.7 183.4 L113.5 182.0 L114.3 180.5 L115.2 179.1 L116.1 177.7 L117.0 176.4 L117.9 175.1 L118.7 174.0 L119.6 173.0 L120.5 171.9 L121.5 170.9 L122.4 169.8 L123.5 168.7 L124.6 167.5 L125.8 166.2 L127.2 164.8 L128.6 163.4 L130.1 161.9 L131.6 160.4 L133.0 158.9 L134.5 157.5 L135.9 156.2 L137.3 154.9 L138.6 153.7 L139.9 152.6 L141.2 151.4 L142.5 150.3 L143.9 149.2 L145.3 148.1 L146.7 147.0 L148.1 145.8 L149.7 144.7 L151.3 143.6 L152.8 142.5 L154.4 141.4 L156.0 140.4 L157.5 139.4 L158.9 138.4 L160.2 137.6 L161.5 136.7 L162.7 135.9 L163.9 135.2 L165.1 134.4 L166.3 133.7 L167.5 133.0 L168.7 132.2 L170.0 131.5 L171.3 130.7 L172.7 129.9 L174.1 129.2 L175.4 128.4 L176.8 127.7 L178.1 127.0 L179.4 126.4 L180.6 125.8 L181.8 125.3 L183.0 124.8 L184.2 124.3 L185.3 123.8 L186.5 123.3 L187.6 122.9 L188.8 122.5 L190.0 122.0 L191.2 121.6 L192.3 121.3 L193.5 120.9 L194.7 120.6 L196.0 120.2 L197.2 119.9 L198.5 119.7 L199.9 119.4 L201.4 119.2 L203.0 119.0 L204.5 118.9 L206.0 118.7 L207.5 118.6 L208.8 118.5 L209.9 118.4 L210.8 118.3 L211.6 118.2 L212.2 118.2 L212.8 118.1 L213.3 118.1 L214.0 118.1 L214.8 118.1 L215.7 118.2 L216.8 118.3 L218.1 118.4 L219.5 118.6 L221.0 118.8 L222.4 119.0 L223.9 119.3 L225.3 119.5 L226.6 119.8 L227.9 120.1 L229.0 120.5 L230.1 120.9 L231.2 121.2 L232.3 121.7 L233.3 122.1 L234.3 122.5 L235.4 122.9 L236.4 123.3 L237.4 123.7 L238.4 124.1 L239.4 124.6 L240.4 125.0 L241.4 125.4 L242.3 125.9 L243.2 126.3 L244.1 126.7 L244.9 127.1 L245.6 127.4 L246.4 127.8 L247.1 128.2 L248.0 128.7 L248.8 129.2 L249.8 129.7 L250.9 130.4 L252.0 131.1 L253.3 131.9 L254.5 132.7 L255.8 133.6 L257.1 134.4 L258.5 135.3 L259.8 136.2 L261.1 137.1 L262.5 138.0 L263.9 139.1 L265.3 140.1 L266.7 141.1 L268.0 142.1 L269.3 143.0 L270.5 143.8 L271.5 144.4 L272.2 144.8 L272.8 145.2 L273.4 145.5 L274.0 145.9 L274.9 146.5 L276.1 147.2 L277.7 148.2 L279.8 149.6 L282.3 151.3 L285.2 153.3 L288.2 155.3 L291.3 157.4 L294.4 159.4 L297.2 161.2 L299.7 162.8 L301.9 164.2 L303.9 165.4 L305.7 166.4 L307.5 167.4 L309.2 168.3 L310.9 169.3 L312.7 170.2 L314.4 171.2 L316.3 172.3 L318.1 173.3 L319.9 174.4 L321.7 175.4 L323.5 176.5 L325.3 177.5 L327.1 178.5 L328.9 179.5 L330.7 180.5 L332.6 181.5 L334.4 182.5 L336.2 183.4 L338.0 184.4 L339.8 185.3 L341.6 186.3 L343.4 187.2 L345.2 188.1 L347.1 189.0 L348.9 189.9 L350.7 190.8 L352.6 191.6 L354.4 192.5 L356.2 193.3 L358.1 194.1 L359.9 194.8 L361.6 195.6 L363.4 196.3 L365.2 197.0 L366.9 197.7 L368.7 198.3 L370.5 199.0 L372.3 199.7 L374.1 200.3 L376.0 200.9 L377.9 201.6 L379.7 202.2 L381.6 202.8 L383.5 203.4 L385.4 204.0 L387.3 204.5 L389.1 205.1 L391.0 205.7 L392.9 206.3 L394.8 206.8 L396.7 207.4 L398.6 207.9 L400.4 208.4 L402.2 208.9 L404.1 209.4 L405.9 209.9 L407.6 210.4 L409.4 210.9 L411.2 211.3 L412.9 211.8 L414.7 212.3 L416.4 212.7 L418.2 213.2 L420.0 213.7 L421.8 214.2 L423.6 214.6 L425.4 215.1 L427.1 215.6 L428.7 216.0 L430.2 216.4 L431.7 216.8 L432.9 217.2 L434.1 217.5 L435.3 217.8 L436.4 218.2 L437.6 218.5 L438.9 218.8 L440.2 219.1 L441.7 219.5 L443.1 219.8 L444.6 220.2 L446.2 220.6 L447.8 220.9 L449.5 221.3 L451.2 221.6 L452.9 221.9 L454.8 222.2 L456.8 222.5 L458.8 222.8 L460.9 223.0 L463.0 223.3 L465.1 223.5 L467.2 223.7 L469.3 223.9 L471.4 224.1 L473.5 224.2 L475.6 224.3 L477.8 224.4 L479.9 224.5 L481.9 224.6 L483.8 224.7 L485.6 224.8 L487.4 224.9 L489.0 225.0 L490.6 225.0 L492.1 225.1 L493.5 225.1 L494.8 225.2 L496.0 225.3 L497.0 225.3 L497.9 225.3 L498.6 225.3 L499.2 225.3 L499.6 225.4 L500.1 225.4 L500.5 225.4 L500.9 225.5 L501.3 225.7 L501.8 226.0 L502.1 226.4 L502.3 226.8 L502.4 227.2 L502.4 227.6 L502.4 228.0 L502.4 228.3 L502.4 228.6 L502.4 229.0 L502.4 229.4 L502.3 229.8 L502.3 230.2 L502.2 230.6 L502.1 231.1 L502.0 231.5 L501.9 231.9 L501.8 232.2 L501.7 232.5 L501.6 232.8 L501.4 233.2 L501.2 233.6 L500.9 234.0 L500.5 234.4 L500.0 234.9 L499.3 235.4 L498.5 236.1 L497.6 236.7 L496.6 237.5 L495.5 238.2 L494.5 238.8 L493.5 239.5 L492.5 240.0 L491.7 240.4 L491.1 240.8 L490.4 241.1 L489.7 241.3 L489.0 241.6 L488.1 241.9 L487.1 242.1 L485.8 242.5 L484.2 242.9 L482.4 243.3 L480.4 243.7 L478.2 244.2 L476.0 244.6 L473.7 245.0 L471.5 245.4 L469.3 245.8 L467.3 246.1 L465.2 246.4 L463.2 246.6 L461.1 246.9 L459.0 247.1 L457.0 247.3 L454.9 247.5 L452.9 247.7 L450.8 247.9 L448.8 248.0 L446.7 248.2 L444.7 248.3 L442.6 248.4 L440.5 248.5 L438.5 248.6 L436.4 248.7 L434.4 248.8 L432.2 248.8 L430.1 248.8 L428.0 248.9 L425.9 248.9 L423.9 248.9 L421.9 248.9 L420.0 248.9 L418.3 248.9 L416.9 248.9 L415.6 248.9 L414.3 248.9 L412.9 248.9 L411.3 248.9 L409.4 248.9 L407.0 248.9 L404.1 248.9 L400.7 248.9 L396.9 248.8 L393.0 248.8 L389.0 248.8 L385.0 248.7 L381.2 248.7 L377.7 248.6 L374.5 248.5 L371.4 248.4 L368.5 248.4 L365.6 248.3 L362.8 248.2 L360.0 248.0 L357.1 247.9 L354.2 247.7 L351.3 247.5 L348.3 247.3 L345.4 247.0 L342.4 246.7 L339.4 246.5 L336.5 246.2 L333.7 245.9 L330.9 245.6 L328.2 245.4 L325.6 245.1 L323.0 244.9 L320.5 244.7 L317.9 244.4 L315.4 244.2 L312.9 243.9 L310.3 243.7 L307.7 243.4 L305.0 243.1 L302.3 242.7 L299.5 242.4 L296.9 242.1 L294.3 241.7 L292.0 241.5 L289.8 241.2 L287.9 241.0 L286.3 240.9 L284.8 240.7 L283.5 240.6 L282.1 240.5 L280.7 240.4 L279.0 240.2 L277.1 240.0 L274.9 239.7 L272.4 239.5 L269.8 239.1 L267.0 238.8 L264.2 238.5 L261.5 238.2 L259.0 237.8 L256.6 237.4 L254.5 237.1 L252.5 236.8 L250.7 236.4 L248.9 236.1 L247.2 235.8 L245.5 235.5 L243.8 235.2 L242.0 234.9 L240.2 234.7 L238.3 234.4 L236.4 234.2 L234.6 234.0 L232.7 233.7 L230.9 233.5 L229.1 233.3 L227.4 233.1 L225.8 232.9 L224.4 232.6 L223.0 232.4 L221.7 232.2 L220.4 232.0 L219.0 231.8 L217.5 231.6 L215.8 231.4 L214.0 231.2 L212.0 231.0 L209.9 230.8 L207.7 230.7 L205.5 230.5 L203.2 230.3 L200.8 230.1 L198.5 230.0 L196.0 229.8 L193.5 229.6 L190.9 229.5 L188.3 229.4 L185.7 229.3 L183.1 229.3 L180.5 229.2 L178.0 229.1 L175.4 229.0 L172.9 228.8 L170.3 228.7 L167.8 228.5 L165.4 228.3 L163.1 228.2 L160.9 228.0 L158.9 227.9 L157.2 227.8 L155.7 227.7 L154.3 227.6 L153.0 227.5 L151.8 227.4 L150.7 227.3 L149.6 227.2 L148.4 227.1 L147.3 227.0 L146.2 226.8 L145.3 226.7 L144.3 226.5 L143.4 226.4 L142.3 226.2 L141.2 226.0 L139.9 225.8 L138.4 225.6 L136.7 225.3 L135.0 225.1 L133.2 224.8 L131.3 224.6 L129.3 224.3 L127.4 224.0 L125.5 223.7 L123.5 223.3 L121.4 222.9 L119.3 222.5 L117.1 222.1 L115.0 221.7 L112.9 221.2 L110.9 220.8 L109.1 220.4 L107.4 220.0 L105.8 219.6 L104.3 219.2 L102.8 218.8 L101.4 218.4 L100.1 218.0 L98.9 217.7 L97.7 217.3 L96.6 216.9 L95.5 216.6 L94.6 216.3 L93.7 215.9 L92.8 215.6 L92.0 215.3 L91.3 215.0 L90.5 214.6 L89.8 214.2 L89.1 213.8 L88.4 213.5 L87.8 213.1 L87.2 212.6 L86.7 212.1 L86.1 211.6 L85.6 211.0 L85.1 210.4 L84.6 209.7 L84.2 209.0 L83.8 208.3 L83.4 207.5 L83.0 206.6 L82.7 205.6 L82.3 204.4 L81.9 203.0 L81.6 201.5 L81.3 199.7 L81.0 197.9 L80.7 196.1 L80.4 194.4 L80.1 192.7 L79.8 191.3 L79.5 190.0 L79.2 188.9 L79.0 187.8 L78.7 186.8 L78.5 185.8 L78.2 185.0 L78.0 184.2 L77.8 183.5 L77.6 182.9 L77.4 182.3 L77.3 181.8 L77.1 181.4 L77.0 181.1 L76.9 180.9 L76.7 180.7 L76.6 180.7" stroke="#ea3e3a" stroke-width="2.9" stroke-linecap="round" stroke-dasharray="0 9" stroke-dashoffset="4.5"/><path d="M76.6 180.7 L76.5 180.8 L76.3 180.9 L76.2 181.2 L76.0 181.5 L75.9 182.0 L75.7 182.5 L75.6 183.2 L75.5 184.0 L75.4 184.8 L75.3 185.6 L75.2 186.4 L75.1 187.4 L75.0 188.6 L74.9 190.1 L74.9 192.1 L74.8 194.6 L74.7 197.5 L74.7 200.6 L74.7 204.1 L74.6 207.9 L74.6 212.2 L74.6 217.1 L74.5 222.7 L74.5 229.0 L74.4 236.7 L74.3 246.1 L74.3 256.5 L74.2 267.3 L74.1 277.9 L74.0 287.6 L73.9 295.9 L73.9 302.0 L73.9 305.9 L73.9 308.1 L74.0 309.1 L74.0 309.1 L74.1 308.5 L74.1 307.7 L74.2 307.1 L74.2 307.0" stroke="#ea3e3a" stroke-width="1.0" stroke-dasharray="7 3 1.5 3"/><path d="M76.6 180.7 L76.5 180.8 L76.3 180.9 L76.2 181.2 L76.0 181.5 L75.9 182.0 L75.7 182.5 L75.6 183.2 L75.5 184.0 L75.4 184.8 L75.3 185.6 L75.2 186.4 L75.1 187.4 L75.0 188.6 L74.9 190.1 L74.9 192.1 L74.8 194.6 L74.7 197.5 L74.7 200.6 L74.7 204.1 L74.6 207.9 L74.6 212.2 L74.6 217.1 L74.5 222.7 L74.5 229.0 L74.4 236.7 L74.3 246.1 L74.3 256.5 L74.2 267.3 L74.1 277.9 L74.0 287.6 L73.9 295.9 L73.9 302.0 L73.9 305.9 L73.9 308.1 L74.0 309.1 L74.0 309.1 L74.1 308.5 L74.1 307.7 L74.2 307.1 L74.2 307.0" stroke="#ea3e3a" stroke-width="2.2" stroke-linecap="round" stroke-dasharray="0 13" stroke-dashoffset="6"/><path d="M222.4 119.0 L223.9 119.3 L225.3 119.5 L226.6 119.8 L227.9 120.1 L229.0 120.5 L230.1 120.9 L231.2 121.2 L232.3 121.7 L233.3 122.1 L234.3 122.5 L235.4 122.9 L236.4 123.3 L237.4 123.7 L238.4 124.1 L239.4 124.6 L240.4 125.0 L241.4 125.4 L242.3 125.9 L243.2 126.3 L244.1 126.7 L244.9 127.1 L245.6 127.4 L246.4 127.8 L247.1 128.2 L248.0 128.7 L248.8 129.2 L249.8 129.7 L250.9 130.4 L252.0 131.1 L253.3 131.9 L254.5 132.7 L255.8 133.6 L257.1 134.4 L258.5 135.3 L259.8 136.2" stroke="#ea3e3a" stroke-width="2.6" stroke-linecap="round"/><path d="M74.2 307.0 L74.4 306.2 L74.6 305.2 L74.9 304.0 L75.3 302.6 L75.6 301.1 L76.0 299.6 L76.3 298.0 L76.7 296.5 L77.0 295.0 L77.4 293.5 L77.7 292.0 L78.1 290.4 L78.5 288.7 L78.8 286.9 L79.3 284.9 L79.7 282.8 L80.2 280.4 L80.7 277.8 L81.2 275.0 L81.8 272.1 L82.4 269.1 L82.9 266.3 L83.5 263.5 L84.0 261.0 L84.5 258.7 L85.0 256.5 L85.5 254.4 L86.0 252.3 L86.5 250.4 L87.0 248.4 L87.5 246.5 L88.0 244.6 L88.5 242.7 L89.1 240.7 L89.6 238.8 L90.1 236.9 L90.7 235.1 L91.2 233.3 L91.7 231.6 L92.2 230.0 L92.7 228.5 L93.1 227.1 L93.5 225.8 L93.9 224.5 L94.3 223.3 L94.7 222.2 L95.1 221.1 L95.5 220.0 L95.9 219.1 L96.2 218.3 L96.5 217.6 L96.8 216.9 L97.2 216.3 L97.6 215.5 L98.0 214.6 L98.5 213.4" stroke="#0ca750" stroke-width="2.0" stroke-dasharray="6 2.5 1.5 2.5"/><path d="M74.2 307.0 L74.4 306.2 L74.6 305.2 L74.9 304.0 L75.3 302.6 L75.6 301.1 L76.0 299.6 L76.3 298.0 L76.7 296.5 L77.0 295.0 L77.4 293.5 L77.7 292.0 L78.1 290.4 L78.5 288.7 L78.8 286.9 L79.3 284.9 L79.7 282.8 L80.2 280.4 L80.7 277.8 L81.2 275.0 L81.8 272.1 L82.4 269.1 L82.9 266.3 L83.5 263.5 L84.0 261.0 L84.5 258.7 L85.0 256.5 L85.5 254.4 L86.0 252.3 L86.5 250.4 L87.0 248.4 L87.5 246.5 L88.0 244.6 L88.5 242.7 L89.1 240.7 L89.6 238.8 L90.1 236.9 L90.7 235.1 L91.2 233.3 L91.7 231.6 L92.2 230.0 L92.7 228.5 L93.1 227.1 L93.5 225.8 L93.9 224.5 L94.3 223.3 L94.7 222.2 L95.1 221.1 L95.5 220.0 L95.9 219.1 L96.2 218.3 L96.5 217.6 L96.8 216.9 L97.2 216.3 L97.6 215.5 L98.0 214.6 L98.5 213.4" stroke="#0a9a49" stroke-width="2.8" stroke-linecap="round" stroke-dasharray="0 7" stroke-dashoffset="0"/><path d="M76.6 180.7 L76.5 180.8 L76.3 180.9 L76.2 181.2 L76.0 181.5 L75.9 182.0 L75.7 182.5 L75.6 183.2 L75.5 184.0 L75.4 184.8 L75.3 185.6 L75.2 186.4 L75.1 187.4 L75.0 188.6 L74.9 190.1 L74.9 192.1 L74.8 194.6 L74.7 197.5 L74.7 200.6 L74.7 204.1 L74.6 207.9 L74.6 212.2 L74.6 217.1 L74.5 222.7 L74.5 229.0 L74.4 236.7 L74.3 246.1 L74.3 256.5 L74.2 267.3 L74.1 277.9 L74.0 287.6 L73.9 295.9 L73.9 302.0 L73.9 305.9 L73.9 308.1 L74.0 309.1 L74.0 309.1 L74.1 308.5 L74.1 307.7 L74.2 307.1 L74.2 307.0" stroke="#0ca750" stroke-width="1.3" stroke-dasharray="6 2.5 1.5 2.5"/><path d="M76.6 180.7 L76.5 180.8 L76.3 180.9 L76.2 181.2 L76.0 181.5 L75.9 182.0 L75.7 182.5 L75.6 183.2 L75.5 184.0 L75.4 184.8 L75.3 185.6 L75.2 186.4 L75.1 187.4 L75.0 188.6 L74.9 190.1 L74.9 192.1 L74.8 194.6 L74.7 197.5 L74.7 200.6 L74.7 204.1 L74.6 207.9 L74.6 212.2 L74.6 217.1 L74.5 222.7 L74.5 229.0 L74.4 236.7 L74.3 246.1 L74.3 256.5 L74.2 267.3 L74.1 277.9 L74.0 287.6 L73.9 295.9 L73.9 302.0 L73.9 305.9 L73.9 308.1 L74.0 309.1 L74.0 309.1 L74.1 308.5 L74.1 307.7 L74.2 307.1 L74.2 307.0" stroke="#0a9a49" stroke-width="2.2" stroke-linecap="round" stroke-dasharray="0 8" stroke-dashoffset="0"/><path d="M239.2 138.4 L240.0 133.3 L240.6 146.8 L242.2 225.2 L243.5 146.0 L244.0 100.0 L244.7 62.4 L245.1 80.0 L245.4 89.0 L246.4 95.0 L248.6 105.0 L250.4 117.3 L251.7 129.6 L253.3 137.0" stroke="#0ca750" stroke-width="1.4" stroke-dasharray="8 2"/><path d="M239.2 138.4 L240.0 133.3 L240.6 146.8 L242.2 225.2 L243.5 146.0 L244.0 100.0 L244.7 62.4 L245.1 80.0 L245.4 89.0 L246.4 95.0 L248.6 105.0 L250.4 117.3 L251.7 129.6 L253.3 137.0" stroke="#0a9a49" stroke-width="2.3" stroke-linecap="round" stroke-dasharray="0 6" stroke-dashoffset="0"/><path d="M244.0 100.0 L244.7 62.4 L245.1 80.0 L245.4 89.0 L246.4 95.0 L248.6 105.0 L250.4 117.3" stroke="#0ca750" stroke-width="1.8" stroke-dasharray="6 1.5"/><path d="M244.0 100.0 L244.7 62.4 L245.1 80.0 L245.4 89.0 L246.4 95.0 L248.6 105.0 L250.4 117.3" stroke="#0a9a49" stroke-width="2.6" stroke-linecap="round" stroke-dasharray="0 3.5" stroke-dashoffset="0"/><path d="M98.5 213.4 L99.1 212.0 L99.7 210.4 L100.5 208.6 L101.2 206.8 L102.0 204.9 L102.8 203.0 L103.5 201.2 L104.3 199.5 L105.1 197.9 L105.8 196.5 L106.6 195.0 L107.3 193.6 L108.1 192.2 L108.9 190.8 L109.7 189.4 L110.5 188.0 L111.3 186.6 L112.1 185.1 L113.0 183.6 L113.8 182.1 L114.7 180.7 L115.5 179.3 L116.4 177.9 L117.3 176.6 L118.2 175.4 L119.1 174.3 L120.0 173.3 L120.9 172.2 L121.8 171.2 L122.8 170.2 L123.9 169.1 L125.0 167.9 L126.2 166.6 L127.6 165.2 L129.0 163.8 L130.5 162.3 L131.9 160.8 L133.4 159.3 L134.9 157.9 L136.3 156.6 L137.7 155.3 L139.0 154.1 L140.3 153.0 L141.6 151.8 L142.9 150.7 L144.2 149.6 L145.6 148.5 L147.0 147.4 L148.5 146.3 L150.0 145.2 L151.6 144.1 L153.2 143.0 L154.7 141.9 L156.3 140.8 L157.8 139.8 L159.2 138.9 L160.5 138.0 L161.8 137.2 L163.0 136.4 L164.2 135.6 L165.4 134.9 L166.6 134.2 L167.8 133.4 L169.0 132.7 L170.3 131.9 L171.6 131.2 L173.0 130.4 L174.3 129.7 L175.7 128.9 L177.0 128.2 L178.3 127.5 L179.6 126.9 L180.8 126.3 L182.0 125.8 L183.2 125.3 L184.4 124.8 L185.5 124.3 L186.7 123.9 L187.8 123.5 L189.0 123.1 L190.2 122.7 L191.5 122.3 L192.7 121.9 L194.0 121.6 L195.3 121.3 L196.5 121.0 L197.6 120.8 L198.7 120.6 L199.7 120.5 L200.6 120.5 L201.4 120.6 L202.2 120.7 L203.0 120.8 L203.8 120.9 L204.6 121.0 L205.4 121.0 L206.2 121.0 L207.1 120.9 L208.0 120.8 L208.8 120.8 L209.7 120.7 L210.5 120.6 L211.4 120.6 L212.3 120.6 L213.2 120.6 L214.1 120.7 L215.1 120.8 L216.0 120.9 L217.0 121.0 L217.9 121.2 L218.8 121.4 L219.7 121.6 L220.5 121.9 L221.3 122.1 L222.1 122.5 L222.8 122.8 L223.6 123.2 L224.3 123.6 L225.0 124.0 L225.8 124.5 L226.6 125.0 L227.4 125.6 L228.2 126.2 L229.0 126.8 L229.8 127.4 L230.5 128.1 L231.3 128.7 L232.0 129.4 L232.7 130.1 L233.4 130.8 L234.0 131.5 L234.7 132.3 L235.3 133.0 L235.9 133.7 L236.4 134.4 L236.9 135.0 L237.3 135.6 L237.7 136.1 L238.1 136.6 L238.4 137.1 L238.6 137.5 L238.8 137.8 L239.0 138.2 L239.2 138.4" stroke="#0ca750" stroke-width="2.2" stroke-dasharray="6 2.5 1.5 2.5"/><path d="M98.5 213.4 L99.1 212.0 L99.7 210.4 L100.5 208.6 L101.2 206.8 L102.0 204.9 L102.8 203.0 L103.5 201.2 L104.3 199.5 L105.1 197.9 L105.8 196.5 L106.6 195.0 L107.3 193.6 L108.1 192.2 L108.9 190.8 L109.7 189.4 L110.5 188.0 L111.3 186.6 L112.1 185.1 L113.0 183.6 L113.8 182.1 L114.7 180.7 L115.5 179.3 L116.4 177.9 L117.3 176.6 L118.2 175.4 L119.1 174.3 L120.0 173.3 L120.9 172.2 L121.8 171.2 L122.8 170.2 L123.9 169.1 L125.0 167.9 L126.2 166.6 L127.6 165.2 L129.0 163.8 L130.5 162.3 L131.9 160.8 L133.4 159.3 L134.9 157.9 L136.3 156.6 L137.7 155.3 L139.0 154.1 L140.3 153.0 L141.6 151.8 L142.9 150.7 L144.2 149.6 L145.6 148.5 L147.0 147.4 L148.5 146.3 L150.0 145.2 L151.6 144.1 L153.2 143.0 L154.7 141.9 L156.3 140.8 L157.8 139.8 L159.2 138.9 L160.5 138.0 L161.8 137.2 L163.0 136.4 L164.2 135.6 L165.4 134.9 L166.6 134.2 L167.8 133.4 L169.0 132.7 L170.3 131.9 L171.6 131.2 L173.0 130.4 L174.3 129.7 L175.7 128.9 L177.0 128.2 L178.3 127.5 L179.6 126.9 L180.8 126.3 L182.0 125.8 L183.2 125.3 L184.4 124.8 L185.5 124.3 L186.7 123.9 L187.8 123.5 L189.0 123.1 L190.2 122.7 L191.5 122.3 L192.7 121.9 L194.0 121.6 L195.3 121.3 L196.5 121.0 L197.6 120.8 L198.7 120.6 L199.7 120.5 L200.6 120.5 L201.4 120.6 L202.2 120.7 L203.0 120.8 L203.8 120.9 L204.6 121.0 L205.4 121.0 L206.2 121.0 L207.1 120.9 L208.0 120.8 L208.8 120.8 L209.7 120.7 L210.5 120.6 L211.4 120.6 L212.3 120.6 L213.2 120.6 L214.1 120.7 L215.1 120.8 L216.0 120.9 L217.0 121.0 L217.9 121.2 L218.8 121.4 L219.7 121.6 L220.5 121.9 L221.3 122.1 L222.1 122.5 L222.8 122.8 L223.6 123.2 L224.3 123.6 L225.0 124.0 L225.8 124.5 L226.6 125.0 L227.4 125.6 L228.2 126.2 L229.0 126.8 L229.8 127.4 L230.5 128.1 L231.3 128.7 L232.0 129.4 L232.7 130.1 L233.4 130.8 L234.0 131.5 L234.7 132.3 L235.3 133.0 L235.9 133.7 L236.4 134.4 L236.9 135.0 L237.3 135.6 L237.7 136.1 L238.1 136.6 L238.4 137.1 L238.6 137.5 L238.8 137.8 L239.0 138.2 L239.2 138.4" stroke="#0a9a49" stroke-width="3.1" stroke-linecap="round" stroke-dasharray="0 5" stroke-dashoffset="0"/><path d="M253.3 137.0 L253.6 137.2 L253.9 137.5 L254.3 137.8 L254.7 138.2 L255.2 138.6 L255.7 139.0 L256.2 139.3 L256.6 139.6 L257.0 139.8 L257.4 140.1 L257.8 140.2 L258.1 140.4 L258.5 140.6 L259.0 140.8 L259.4 141.0 L260.0 141.3 L260.6 141.6 L261.3 142.0 L262.0 142.4 L262.8 142.8 L263.6 143.3 L264.4 143.7 L265.2 144.2 L266.0 144.6 L266.6 144.9 L267.1 145.2 L267.4 145.3 L267.8 145.5 L268.4 145.8 L269.3 146.3 L270.5 147.0 L272.3 148.1 L274.8 149.6 L277.9 151.5 L281.4 153.7 L285.2 156.1 L289.1 158.5 L292.8 160.8 L296.3 162.9 L299.2 164.6 L301.6 166.0 L303.8 167.2 L305.6 168.3 L307.4 169.2 L309.0 170.0 L310.6 170.9 L312.2 171.7 L314.0 172.7 L315.8 173.7 L317.6 174.7 L319.5 175.7 L321.3 176.7 L323.1 177.7 L324.9 178.7 L326.7 179.7 L328.5 180.6 L330.3 181.6 L332.1 182.6 L333.9 183.5 L335.7 184.4 L337.5 185.4 L339.4 186.3 L341.2 187.2 L343.0 188.1 L344.8 189.0 L346.7 189.8 L348.5 190.7 L350.4 191.5 L352.2 192.4 L354.0 193.2 L355.9 194.0 L357.7 194.7 L359.5 195.5 L361.3 196.2 L363.1 196.9 L364.8 197.6 L366.6 198.3 L368.4 199.0 L370.2 199.6 L372.0 200.3 L373.8 200.9 L375.7 201.6 L377.6 202.2 L379.5 202.8 L381.3 203.4 L383.2 204.0 L385.1 204.6 L387.0 205.2 L388.9 205.8 L390.8 206.3 L392.7 206.9 L394.6 207.5 L396.4 208.0 L398.3 208.6 L400.2 209.1 L402.0 209.6 L403.8 210.1 L405.6 210.6 L407.4 211.1 L409.2 211.6 L410.9 212.1 L412.7 212.6 L414.4 213.0 L416.2 213.5 L418.0 214.0 L419.8 214.5 L421.6 215.0 L423.4 215.5 L425.1 216.0 L426.8 216.4 L428.5 216.9 L430.0 217.3 L431.4 217.7 L432.7 218.0 L433.9 218.4 L435.1 218.7 L436.2 219.0 L437.4 219.3 L438.6 219.7 L440.0 220.0 L441.4 220.4 L442.9 220.7 L444.4 221.1 L446.0 221.4 L447.6 221.8 L449.3 222.2 L451.0 222.5 L452.8 222.8 L454.7 223.1 L456.6 223.4 L458.7 223.7 L460.8 223.9 L462.9 224.2 L465.0 224.4 L467.1 224.6 L469.2 224.8 L471.3 225.0 L473.4 225.1 L475.6 225.2 L477.7 225.3 L479.8 225.4 L481.9 225.5 L483.8 225.6 L485.6 225.7 L487.3 225.8 L489.0 225.9 L490.6 225.9 L492.1 226.0 L493.5 226.0 L494.8 226.1 L496.0 226.1 L497.0 226.2 L497.9 226.2 L498.6 226.2 L499.2 226.2 L499.6 226.2 L500.0 226.3 L500.3 226.3 L500.6 226.4 L500.9 226.5 L501.1 226.7 L501.3 226.9 L501.4 227.1 L501.5 227.4 L501.5 227.7 L501.5 228.0 L501.5 228.3 L501.5 228.6 L501.5 228.9 L501.5 229.3 L501.4 229.7 L501.4 230.1 L501.3 230.5 L501.2 230.9 L501.1 231.2 L501.0 231.6 L500.9 231.9 L500.8 232.2 L500.7 232.5 L500.6 232.8 L500.5 233.1 L500.2 233.4 L499.9 233.8 L499.4 234.2 L498.8 234.7 L498.0 235.3 L497.0 236.0 L496.1 236.7 L495.0 237.4 L494.0 238.1 L493.0 238.7 L492.1 239.2 L491.3 239.6 L490.7 240.0 L490.0 240.3 L489.4 240.5 L488.7 240.7 L487.9 241.0 L486.9 241.3 L485.6 241.6 L484.0 242.0 L482.2 242.4 L480.2 242.8 L478.0 243.3 L475.8 243.7 L473.5 244.2 L471.3 244.5 L469.2 244.9 L467.2 245.2 L465.1 245.5 L463.1 245.8 L461.0 246.0 L458.9 246.2 L456.9 246.4 L454.9 246.6 L452.8 246.8 L450.8 247.0 L448.7 247.1 L446.6 247.3 L444.6 247.4 L442.6 247.5 L440.5 247.6 L438.4 247.7 L436.4 247.8 L434.3 247.9 L432.2 247.9 L430.1 247.9 L428.0 248.0 L425.9 248.0 L423.9 248.0 L421.9 248.0 L420.0 248.0 L418.3 248.0 L416.9 248.0 L415.6 248.0 L414.3 248.0 L412.9 248.0 L411.3 248.0 L409.4 248.0 L407.0 248.0 L404.1 248.0 L400.7 248.0 L396.9 247.9 L393.0 247.9 L389.0 247.9 L385.0 247.8 L381.2 247.8 L377.7 247.7 L374.5 247.6 L371.4 247.5 L368.5 247.5 L365.6 247.4 L362.8 247.3 L360.0 247.1 L357.2 247.0 L354.3 246.8 L351.4 246.6 L348.4 246.4 L345.4 246.1 L342.5 245.8 L339.5 245.6 L336.6 245.3 L333.8 245.0 L331.0 244.7 L328.3 244.4 L325.7 244.2 L323.1 243.9 L320.6 243.6 L318.1 243.3 L315.6 243.0 L313.0 242.7 L310.5 242.4 L307.9 242.1 L305.2 241.7 L302.5 241.3 L299.8 240.9 L297.1 240.5 L294.6 240.1 L292.2 239.8 L290.0 239.5 L288.1 239.3 L286.5 239.1 L285.0 238.9 L283.7 238.8 L282.3 238.6 L280.9 238.4 L279.3 238.2 L277.4 238.0 L275.2 237.7 L272.7 237.4 L270.1 237.0 L267.3 236.6 L264.6 236.2 L261.9 235.8 L259.3 235.4 L257.0 235.1 L254.9 234.8 L252.9 234.4 L251.1 234.1 L249.3 233.8 L247.6 233.5 L245.8 233.2 L244.1 233.0 L242.3 232.7 L240.5 232.5 L238.6 232.2 L236.7 232.0 L234.8 231.8 L233.0 231.6 L231.1 231.4 L229.4 231.2 L227.7 231.0 L226.1 230.8 L224.7 230.6 L223.4 230.4 L222.0 230.1 L220.7 229.9 L219.3 229.7 L217.7 229.6 L216.0 229.4 L214.1 229.3 L212.1 229.2 L210.0 229.1 L207.8 229.0 L205.5 228.9 L203.2 228.8 L200.9 228.8 L198.5 228.7 L196.1 228.6 L193.6 228.6 L191.0 228.5 L188.3 228.5 L185.7 228.4 L183.1 228.4 L180.5 228.3 L178.0 228.2 L175.5 228.1 L172.9 227.9 L170.4 227.8 L167.9 227.6 L165.4 227.5 L163.1 227.3 L161.0 227.1 L159.0 227.0 L157.3 226.9 L155.7 226.8 L154.4 226.7 L153.1 226.6 L151.9 226.5 L150.8 226.4 L149.7 226.3 L148.5 226.2 L147.4 226.1 L146.4 225.9 L145.4 225.8 L144.5 225.6 L143.5 225.5 L142.5 225.3 L141.3 225.1 L140.0 224.9 L138.5 224.7 L136.9 224.4 L135.1 224.2 L133.3 223.9 L131.4 223.7 L129.5 223.4 L127.5 223.1 L125.6 222.8 L123.6 222.5 L121.5 222.1 L119.4 221.8 L117.2 221.4 L115.1 221.1 L113.0 220.7 L111.0 220.4 L109.2 220.0 L107.5 219.6 L105.9 219.3 L104.3 218.9 L102.9 218.6 L101.5 218.2 L100.2 217.9 L98.9 217.5 L97.7 217.2 L96.6 216.9 L95.5 216.6 L94.6 216.3 L93.7 215.9 L92.8 215.6 L92.0 215.3 L91.3 215.0 L90.5 214.6 L89.8 214.2 L89.1 213.8 L88.4 213.5 L87.8 213.1 L87.2 212.6 L86.7 212.1 L86.1 211.6 L85.6 211.0 L85.1 210.4 L84.6 209.7 L84.2 209.0 L83.8 208.3 L83.4 207.5 L83.0 206.6 L82.7 205.6 L82.3 204.4 L81.9 203.0 L81.6 201.5 L81.3 199.7 L81.0 197.9 L80.7 196.1 L80.4 194.4 L80.1 192.7 L79.8 191.3 L79.5 190.0 L79.2 188.9 L79.0 187.8 L78.7 186.8 L78.5 185.8 L78.2 185.0 L78.0 184.2 L77.8 183.5 L77.6 182.9 L77.4 182.3 L77.3 181.8 L77.1 181.4 L77.0 181.1 L76.9 180.9 L76.7 180.7 L76.6 180.7" stroke="#0ca750" stroke-width="2.2" stroke-dasharray="6 2.5 1.5 2.5"/><path d="M253.3 137.0 L253.6 137.2 L253.9 137.5 L254.3 137.8 L254.7 138.2 L255.2 138.6 L255.7 139.0 L256.2 139.3 L256.6 139.6 L257.0 139.8 L257.4 140.1 L257.8 140.2 L258.1 140.4 L258.5 140.6 L259.0 140.8 L259.4 141.0 L260.0 141.3 L260.6 141.6 L261.3 142.0 L262.0 142.4 L262.8 142.8 L263.6 143.3 L264.4 143.7 L265.2 144.2 L266.0 144.6 L266.6 144.9 L267.1 145.2 L267.4 145.3 L267.8 145.5 L268.4 145.8 L269.3 146.3 L270.5 147.0 L272.3 148.1 L274.8 149.6 L277.9 151.5 L281.4 153.7 L285.2 156.1 L289.1 158.5 L292.8 160.8 L296.3 162.9 L299.2 164.6 L301.6 166.0 L303.8 167.2 L305.6 168.3 L307.4 169.2 L309.0 170.0 L310.6 170.9 L312.2 171.7 L314.0 172.7 L315.8 173.7 L317.6 174.7 L319.5 175.7 L321.3 176.7 L323.1 177.7 L324.9 178.7 L326.7 179.7 L328.5 180.6 L330.3 181.6 L332.1 182.6 L333.9 183.5 L335.7 184.4 L337.5 185.4 L339.4 186.3 L341.2 187.2 L343.0 188.1 L344.8 189.0 L346.7 189.8 L348.5 190.7 L350.4 191.5 L352.2 192.4 L354.0 193.2 L355.9 194.0 L357.7 194.7 L359.5 195.5 L361.3 196.2 L363.1 196.9 L364.8 197.6 L366.6 198.3 L368.4 199.0 L370.2 199.6 L372.0 200.3 L373.8 200.9 L375.7 201.6 L377.6 202.2 L379.5 202.8 L381.3 203.4 L383.2 204.0 L385.1 204.6 L387.0 205.2 L388.9 205.8 L390.8 206.3 L392.7 206.9 L394.6 207.5 L396.4 208.0 L398.3 208.6 L400.2 209.1 L402.0 209.6 L403.8 210.1 L405.6 210.6 L407.4 211.1 L409.2 211.6 L410.9 212.1 L412.7 212.6 L414.4 213.0 L416.2 213.5 L418.0 214.0 L419.8 214.5 L421.6 215.0 L423.4 215.5 L425.1 216.0 L426.8 216.4 L428.5 216.9 L430.0 217.3 L431.4 217.7 L432.7 218.0 L433.9 218.4 L435.1 218.7 L436.2 219.0 L437.4 219.3 L438.6 219.7 L440.0 220.0 L441.4 220.4 L442.9 220.7 L444.4 221.1 L446.0 221.4 L447.6 221.8 L449.3 222.2 L451.0 222.5 L452.8 222.8 L454.7 223.1 L456.6 223.4 L458.7 223.7 L460.8 223.9 L462.9 224.2 L465.0 224.4 L467.1 224.6 L469.2 224.8 L471.3 225.0 L473.4 225.1 L475.6 225.2 L477.7 225.3 L479.8 225.4 L481.9 225.5 L483.8 225.6 L485.6 225.7 L487.3 225.8 L489.0 225.9 L490.6 225.9 L492.1 226.0 L493.5 226.0 L494.8 226.1 L496.0 226.1 L497.0 226.2 L497.9 226.2 L498.6 226.2 L499.2 226.2 L499.6 226.2 L500.0 226.3 L500.3 226.3 L500.6 226.4 L500.9 226.5 L501.1 226.7 L501.3 226.9 L501.4 227.1 L501.5 227.4 L501.5 227.7 L501.5 228.0 L501.5 228.3 L501.5 228.6 L501.5 228.9 L501.5 229.3 L501.4 229.7 L501.4 230.1 L501.3 230.5 L501.2 230.9 L501.1 231.2 L501.0 231.6 L500.9 231.9 L500.8 232.2 L500.7 232.5 L500.6 232.8 L500.5 233.1 L500.2 233.4 L499.9 233.8 L499.4 234.2 L498.8 234.7 L498.0 235.3 L497.0 236.0 L496.1 236.7 L495.0 237.4 L494.0 238.1 L493.0 238.7 L492.1 239.2 L491.3 239.6 L490.7 240.0 L490.0 240.3 L489.4 240.5 L488.7 240.7 L487.9 241.0 L486.9 241.3 L485.6 241.6 L484.0 242.0 L482.2 242.4 L480.2 242.8 L478.0 243.3 L475.8 243.7 L473.5 244.2 L471.3 244.5 L469.2 244.9 L467.2 245.2 L465.1 245.5 L463.1 245.8 L461.0 246.0 L458.9 246.2 L456.9 246.4 L454.9 246.6 L452.8 246.8 L450.8 247.0 L448.7 247.1 L446.6 247.3 L444.6 247.4 L442.6 247.5 L440.5 247.6 L438.4 247.7 L436.4 247.8 L434.3 247.9 L432.2 247.9 L430.1 247.9 L428.0 248.0 L425.9 248.0 L423.9 248.0 L421.9 248.0 L420.0 248.0 L418.3 248.0 L416.9 248.0 L415.6 248.0 L414.3 248.0 L412.9 248.0 L411.3 248.0 L409.4 248.0 L407.0 248.0 L404.1 248.0 L400.7 248.0 L396.9 247.9 L393.0 247.9 L389.0 247.9 L385.0 247.8 L381.2 247.8 L377.7 247.7 L374.5 247.6 L371.4 247.5 L368.5 247.5 L365.6 247.4 L362.8 247.3 L360.0 247.1 L357.2 247.0 L354.3 246.8 L351.4 246.6 L348.4 246.4 L345.4 246.1 L342.5 245.8 L339.5 245.6 L336.6 245.3 L333.8 245.0 L331.0 244.7 L328.3 244.4 L325.7 244.2 L323.1 243.9 L320.6 243.6 L318.1 243.3 L315.6 243.0 L313.0 242.7 L310.5 242.4 L307.9 242.1 L305.2 241.7 L302.5 241.3 L299.8 240.9 L297.1 240.5 L294.6 240.1 L292.2 239.8 L290.0 239.5 L288.1 239.3 L286.5 239.1 L285.0 238.9 L283.7 238.8 L282.3 238.6 L280.9 238.4 L279.3 238.2 L277.4 238.0 L275.2 237.7 L272.7 237.4 L270.1 237.0 L267.3 236.6 L264.6 236.2 L261.9 235.8 L259.3 235.4 L257.0 235.1 L254.9 234.8 L252.9 234.4 L251.1 234.1 L249.3 233.8 L247.6 233.5 L245.8 233.2 L244.1 233.0 L242.3 232.7 L240.5 232.5 L238.6 232.2 L236.7 232.0 L234.8 231.8 L233.0 231.6 L231.1 231.4 L229.4 231.2 L227.7 231.0 L226.1 230.8 L224.7 230.6 L223.4 230.4 L222.0 230.1 L220.7 229.9 L219.3 229.7 L217.7 229.6 L216.0 229.4 L214.1 229.3 L212.1 229.2 L210.0 229.1 L207.8 229.0 L205.5 228.9 L203.2 228.8 L200.9 228.8 L198.5 228.7 L196.1 228.6 L193.6 228.6 L191.0 228.5 L188.3 228.5 L185.7 228.4 L183.1 228.4 L180.5 228.3 L178.0 228.2 L175.5 228.1 L172.9 227.9 L170.4 227.8 L167.9 227.6 L165.4 227.5 L163.1 227.3 L161.0 227.1 L159.0 227.0 L157.3 226.9 L155.7 226.8 L154.4 226.7 L153.1 226.6 L151.9 226.5 L150.8 226.4 L149.7 226.3 L148.5 226.2 L147.4 226.1 L146.4 225.9 L145.4 225.8 L144.5 225.6 L143.5 225.5 L142.5 225.3 L141.3 225.1 L140.0 224.9 L138.5 224.7 L136.9 224.4 L135.1 224.2 L133.3 223.9 L131.4 223.7 L129.5 223.4 L127.5 223.1 L125.6 222.8 L123.6 222.5 L121.5 222.1 L119.4 221.8 L117.2 221.4 L115.1 221.1 L113.0 220.7 L111.0 220.4 L109.2 220.0 L107.5 219.6 L105.9 219.3 L104.3 218.9 L102.9 218.6 L101.5 218.2 L100.2 217.9 L98.9 217.5 L97.7 217.2 L96.6 216.9 L95.5 216.6 L94.6 216.3 L93.7 215.9 L92.8 215.6 L92.0 215.3 L91.3 215.0 L90.5 214.6 L89.8 214.2 L89.1 213.8 L88.4 213.5 L87.8 213.1 L87.2 212.6 L86.7 212.1 L86.1 211.6 L85.6 211.0 L85.1 210.4 L84.6 209.7 L84.2 209.0 L83.8 208.3 L83.4 207.5 L83.0 206.6 L82.7 205.6 L82.3 204.4 L81.9 203.0 L81.6 201.5 L81.3 199.7 L81.0 197.9 L80.7 196.1 L80.4 194.4 L80.1 192.7 L79.8 191.3 L79.5 190.0 L79.2 188.9 L79.0 187.8 L78.7 186.8 L78.5 185.8 L78.2 185.0 L78.0 184.2 L77.8 183.5 L77.6 182.9 L77.4 182.3 L77.3 181.8 L77.1 181.4 L77.0 181.1 L76.9 180.9 L76.7 180.7 L76.6 180.7" stroke="#0a9a49" stroke-width="3.1" stroke-linecap="round" stroke-dasharray="0 5" stroke-dashoffset="0"/>
<path d="M467.1 224.6 L469.2 224.8 L471.3 225.0 L473.4 225.1 L475.6 225.2 L477.7 225.3 L479.8 225.4 L481.9 225.5 L483.8 225.6 L485.6 225.7 L487.3 225.8 L489.0 225.9 L490.6 225.9 L492.1 226.0 L493.5 226.0 L494.8 226.1 L496.0 226.1 L497.0 226.2 L497.9 226.2 L498.6 226.2 L499.2 226.2 L499.6 226.2 L500.0 226.3 L500.3 226.3 L500.6 226.4 L500.9 226.5 L501.1 226.7 L501.3 226.9 L501.4 227.1 L501.5 227.4 L501.5 227.7 L501.5 228.0 L501.5 228.3 L501.5 228.6 L501.5 228.9 L501.5 229.3 L501.4 229.7 L501.4 230.1 L501.3 230.5 L501.2 230.9 L501.1 231.2 L501.0 231.6 L500.9 231.9 L500.8 232.2 L500.7 232.5 L500.6 232.8 L500.5 233.1 L500.2 233.4 L499.9 233.8 L499.4 234.2 L498.8 234.7 L498.0 235.3 L497.0 236.0 L496.1 236.7 L495.0 237.4 L494.0 238.1 L493.0 238.7 L492.1 239.2 L491.3 239.6 L490.7 240.0 L490.0 240.3 L489.4 240.5 L488.7 240.7 L487.9 241.0 L486.9 241.3 L485.6 241.6 L484.0 242.0 L482.2 242.4 L480.2 242.8 L478.0 243.3 L475.8 243.7 L473.5 244.2 L471.3 244.5 L469.2 244.9 L467.2 245.2" stroke="#0ca750" stroke-width="2.7" stroke-linecap="round"/><path d="M74.5 299.5 L74.7 306" stroke="#0ca750" stroke-width="3.6" stroke-linecap="round"/></g>
<rect x="336" y="60.2" width="160" height="58.7" fill="#fff"/>
<g fill="none">
<line x1="350.7" y1="70" x2="377.7" y2="70" stroke="#1a1a1a" stroke-width="1.5" stroke-dasharray="3 1.3"/>
<circle cx="364.4" cy="70" r="1.3" fill="#1a1a1a"/>
<line x1="350.7" y1="89.4" x2="359.7" y2="89.4" stroke="#ea3e3a" stroke-width="1.3"/>
<line x1="369" y1="89.4" x2="377.7" y2="89.4" stroke="#ea3e3a" stroke-width="1.3"/>
<rect x="363.4" y="88.3" width="2.2" height="2.2" fill="#ea3e3a"/>
<line x1="350.7" y1="108.9" x2="359.7" y2="108.9" stroke="#0ca750" stroke-width="1.3"/>
<line x1="363.6" y1="108.9" x2="372.8" y2="108.9" stroke="#0ca750" stroke-width="1.3"/>
<circle cx="364.6" cy="108.9" r="1.2" fill="#0ca750"/>
<line x1="377" y1="108.9" x2="378.5" y2="108.9" stroke="#0ca750" stroke-width="1.3"/>
</g>
<g font-size="10.4">
<text x="382.4" y="73" textLength="65.2" lengthAdjust="spacingAndGlyphs">Original Wing</text>
<text x="382.4" y="92.5" textLength="102.5" lengthAdjust="spacingAndGlyphs">Wing dimples 2.5mm</text>
<text x="382.4" y="112" textLength="98" lengthAdjust="spacingAndGlyphs">Wing bumps 2.5mm</text>
</g>
<text x="283.5" y="345.2" text-anchor="middle" font-size="12">x/c (-)</text>
<text transform="translate(42.8 187.8) rotate(-90) scale(0.86 1)" text-anchor="middle" font-size="13">C<tspan font-size="8.5" dy="2.8">p</tspan><tspan dy="-2.8"> (-)</tspan></text>
</svg>
</body></html>
